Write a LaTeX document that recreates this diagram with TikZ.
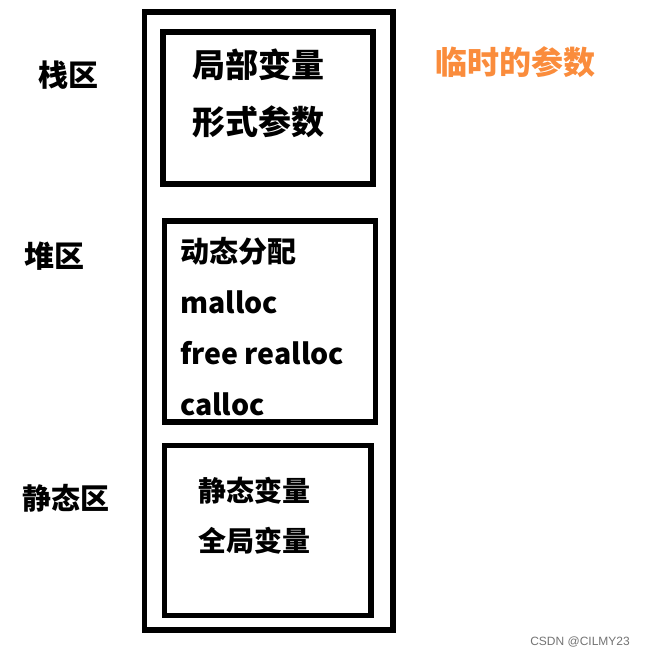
\documentclass[tikz,border=0pt]{standalone}
\usepackage{fontspec}
\newfontfamily\cjk{Noto Sans CJK SC}
\newfontfamily\wmfont{Liberation Sans}
\definecolor{tmporange}{RGB}{250,140,60}

\begin{document}
\begin{tikzpicture}[x=1pt,y=-1pt,
	box/.style={line width=5.5pt},
	txt/.style={inner sep=0pt,anchor=base west,font=\cjk\bfseries},
	lbl/.style={inner sep=0pt,anchor=base,font=\cjk\bfseries\fontsize{30}{30}\selectfont}]
	\useasboundingbox (0,0) rectangle (646,654);

	% memory column
	\draw[box] (144.5,12) rectangle (393,630);
	\draw[box] (163,32) rectangle (373,184);
	\draw[box] (164.5,221) rectangle (375.5,422);
	\draw[box] (164.5,445.5) rectangle (371,615.5);

	% stack
	\node[txt,font=\cjk\bfseries\fontsize{33}{33}\selectfont] (local) at (192,77) {局部变量};
	\node[txt,font=\cjk\bfseries\fontsize{33}{33}\selectfont] (param) at (192,134) {形式参数};

	% heap
	\node[txt,font=\cjk\bfseries\fontsize{29}{29}\selectfont] (dyn) at (180,262) {动态分配};
	\node[txt,font=\cjk\bfseries\fontsize{28.5}{28.5}\selectfont] (malloc) at (180,313) {malloc};
	\node[txt,font=\cjk\bfseries\fontsize{28.5}{28.5}\selectfont] (realloc) at (180,364) {free realloc};
	\node[txt,font=\cjk\bfseries\fontsize{28.5}{28.5}\selectfont] (calloc) at (180,415) {calloc};

	% static
	\node[txt,font=\cjk\bfseries\fontsize{28}{28}\selectfont] (svar) at (198,501) {静态变量};
	\node[txt,font=\cjk\bfseries\fontsize{28}{28}\selectfont] (gvar) at (198,551) {全局变量};

	% area names
	\node[lbl] (stack) at (68,86) {栈区};
	\node[lbl] (heap) at (54,267) {堆区};
	\node[lbl,font=\cjk\bfseries\fontsize{29}{29}\selectfont] (static) at (66,509) {静态区};

	\node[lbl,text=tmporange,font=\cjk\bfseries\fontsize{32}{32}\selectfont] (temp) at (515,74) {临时的参数};

	\node[inner sep=0pt,anchor=base east,text=black!55,font=\wmfont\fontsize{12}{12}\selectfont] (mark) at (630,645) {CSDN @CILMY23};
\end{tikzpicture}
\end{document}
